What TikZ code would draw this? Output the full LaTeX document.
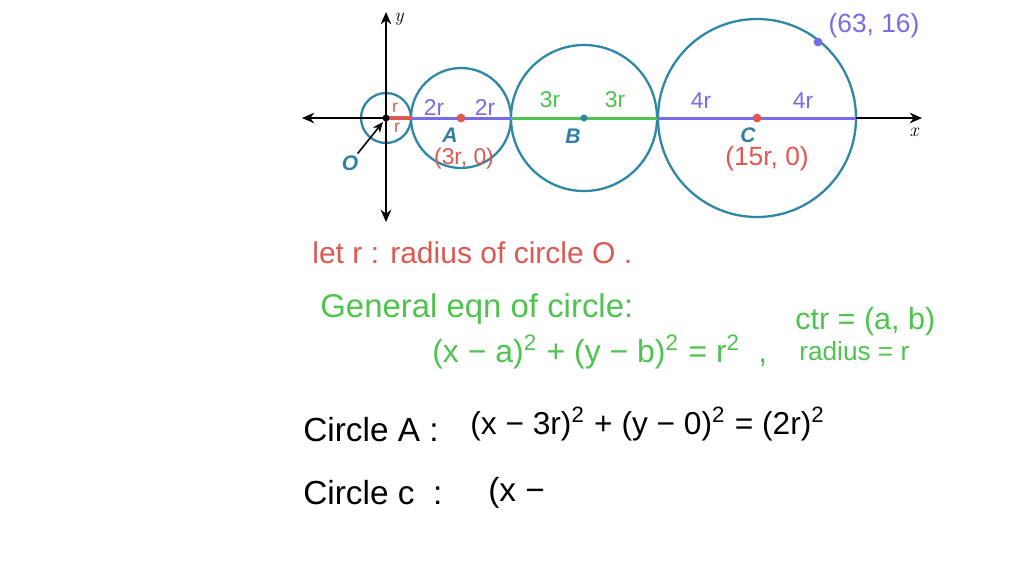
\documentclass[tikz,border=0pt]{standalone}
\usepackage{fontspec}
\usetikzlibrary{arrows.meta}
\newfontfamily\hand{Liberation Sans}
\definecolor{circ}{RGB}{45,135,165}
\definecolor{hred}{RGB}{222,88,82}
\definecolor{hpurple}{RGB}{120,108,230}
\definecolor{hgreen}{RGB}{78,196,78}
\definecolor{lbl}{RGB}{48,128,162}
\begin{document}
\begin{tikzpicture}[x=0.02cm,y=-0.02cm,
  circ/.style={draw=circ, line width=1.3pt},
  axis/.style={line width=1pt, {Stealth[length=7pt,width=6pt]}-{Stealth[length=7pt,width=6pt]}},
  seg/.style={line width=1.7pt},
  lab/.style={text=lbl, font=\hand\bfseries\itshape\fontsize{12}{12}\selectfont, inner sep=1pt},
  small/.style={inner sep=0pt, font=\hand\fontsize{13}{13}\selectfont},
  hw/.style={inner sep=0pt, anchor=west},
  blk/.style={inner sep=0pt, anchor=west, font=\hand\fontsize{19}{19}\selectfont},
  dot/.style={circle, inner sep=0pt, minimum size=5pt}]
\useasboundingbox (0,0) rectangle (1024,576);
\fill[white] (0,0) rectangle (1024,576);
% coordinates
\coordinate (O) at (386,118);
\coordinate (yt) at (386,12);
\coordinate (yb) at (386,222);
\coordinate (xl) at (302,118);
\coordinate (xr) at (922,118);
\coordinate (Oe) at (411,118);
\coordinate (Ae) at (511,118);
\coordinate (Be) at (657,118);
\coordinate (Ce) at (856,118);
% circles
\draw[circ] (386,118) circle[radius=25];
\draw[circ] (461,118) circle[radius=50];
\draw[circ] (584,118) circle[radius=73];
\draw[circ] (757,118) circle[radius=99];
% axes
\draw[axis] (xl) -- (xr);
\draw[axis] (yb) -- (yt);
\node[font=\itshape\fontsize{11}{11}\selectfont, inner sep=0pt] (ylab) at (399,19) {y};
\node[font=\itshape\fontsize{11}{11}\selectfont, inner sep=0pt] (xlab) at (914,132) {x};
% coloured segments
\draw[seg, hred, line width=2.2pt] (O) -- (Oe);
\draw[seg, hpurple] (Oe) -- (Ae);
\draw[seg, hgreen] (Ae) -- (Be);
\draw[seg, hpurple] (Be) -- (Ce);
% dots
\node[dot, fill=black, minimum size=4pt] (o) at (O) {};
\node[dot, fill=hred] (cA) at (461,118) {};
\node[dot, fill=circ, minimum size=4pt] (cB) at (584,118) {};
\node[dot, fill=hred] (cC) at (757,118) {};
\node[dot, fill=hpurple] (P) at (818,42) {};
% diagram labels
\node[small, text=hred, font=\hand\fontsize{10}{10}\selectfont] (r1) at (395,108) {r};
\node[small, text=hred, font=\hand\fontsize{10}{10}\selectfont] (r2) at (397,128) {r};
\node[small, text=hpurple] (l2a) at (434,108) {2r};
\node[small, text=hpurple] (l2b) at (485,108) {2r};
\node[small, text=hgreen] (l3a) at (550,100) {3r};
\node[small, text=hgreen] (l3b) at (615,100) {3r};
\node[small, text=hpurple] (l4a) at (701,101) {4r};
\node[small, text=hpurple] (l4b) at (803,101) {4r};
\node[lab, inner sep=0pt] (LA) at (450,135) {A};
\node[lab, inner sep=0pt] (LB) at (573,136) {B};
\node[lab, inner sep=0pt] (LC) at (748,135) {C};
\node[lab] (LO) at (350,163) {O};
\coordinate (Otip) at (383,122);
\draw[line width=0.9pt, -{Stealth[length=6pt,width=5pt]}] (LO) -- (Otip);
\node[small, text=hred] (pA) at (464,159) {(3r, 0)};
\node[small, text=hred, font=\hand\fontsize{15}{15}\selectfont] (pC) at (767,159) {(15r, 0)};
\node[small, text=hpurple, font=\hand\fontsize{15}{15}\selectfont] (pP) at (874,26) {(63, 16)};
% handwritten notes
\node[hw, text=hred] (t1) at (312,253) {\resizebox{6.4cm}{!}{\hand let r : radius of circle O .}};
\node[hw, text=hgreen] (t2) at (320,309) {\resizebox{6.26cm}{!}{\hand General eqn of circle:}};
\node[hw, text=hgreen] (t3) at (432,352) {\resizebox{6.7cm}{!}{\hand (x − a)\textsuperscript{2} + (y − b)\textsuperscript{2} = r\textsuperscript{2}\ \ ,}};
\node[hw, text=hgreen] (t4) at (795,322) {\resizebox{2.8cm}{!}{\hand ctr = (a, b)}};
\node[hw, text=hgreen] (t5) at (799,351) {\resizebox{2.2cm}{!}{\hand radius = r}};
\node[blk] (t6) at (303,430) {Circle A :};
\node[hw] (t7) at (470,424) {\resizebox{7.1cm}{!}{\hand (x − 3r)\textsuperscript{2} + (y − 0)\textsuperscript{2} = (2r)\textsuperscript{2}}};
\node[blk] (t8) at (303,493) {Circle c\ \ :};
\node[blk] (t9) at (488,493) {(x −};
\end{tikzpicture}
\end{document}
